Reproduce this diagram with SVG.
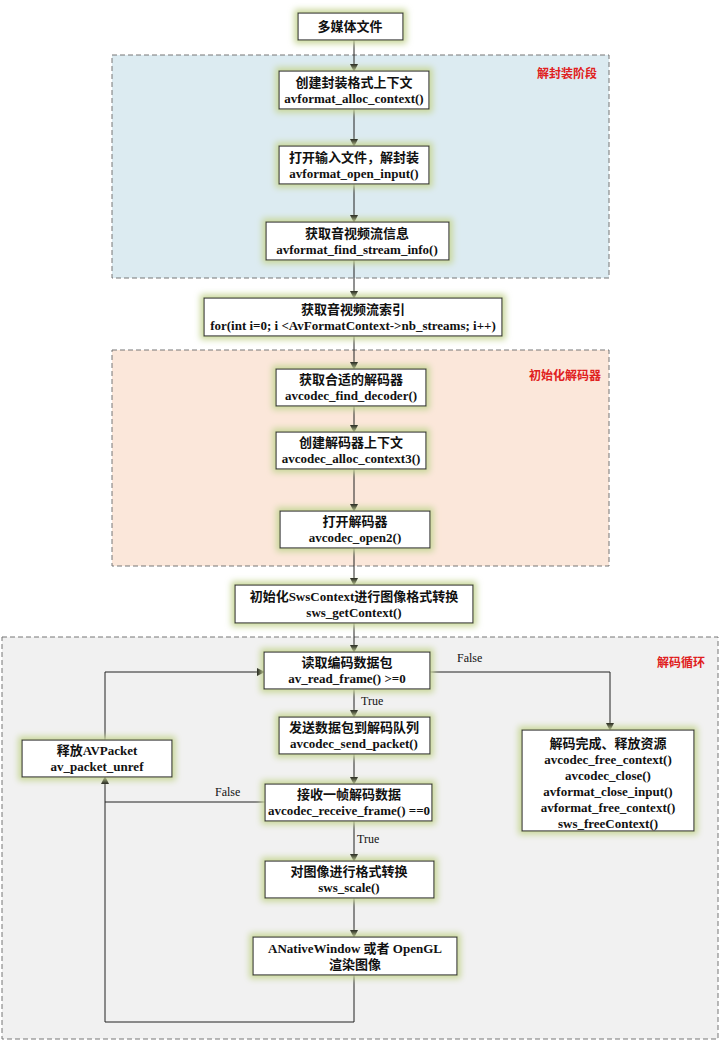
<svg xmlns="http://www.w3.org/2000/svg" width="720" height="1043" viewBox="0 0 720 1043">
<defs>
<filter id="glow" x="-20%" y="-40%" width="140%" height="180%">
<feMorphology in="SourceAlpha" operator="dilate" radius="3" result="d"/>
<feGaussianBlur in="d" stdDeviation="3" result="b"/>
<feFlood flood-color="#c9d79a"/>
<feComposite in2="b" operator="in" result="g"/>
<feMerge><feMergeNode in="g"/><feMergeNode in="SourceGraphic"/></feMerge>
</filter>
<marker id="ah" markerWidth="8" markerHeight="8" refX="7" refY="4" orient="auto" markerUnits="userSpaceOnUse">
<path d="M0,0 L8,4 L0,8 z" fill="#111"/>
</marker>
<style>
.nd rect{fill:#fff;stroke:#333;stroke-width:1.2;filter:url(#glow)}
text{font-family:"Liberation Serif","Noto Sans CJK SC",serif;font-size:13px;font-weight:bold;fill:#111;text-anchor:middle}
.lbl{font-weight:normal;font-size:12px;text-anchor:start}
.grp{font-size:12px;fill:#e02020;text-anchor:end}
.e{fill:none;stroke:#222;stroke-width:1}
.e.a{marker-end:url(#ah)}
.region{stroke:#777;stroke-width:1;stroke-dasharray:5,3}
</style>
</defs>
<rect width="720" height="1043" fill="#fff"/>
<g id="regions">
<rect class="region" x="112" y="55" width="497" height="223" fill="#dcebf1"/>
<text class="grp" x="597" y="78">解封装阶段</text>
<rect class="region" x="112" y="350" width="497" height="216" fill="#fbe7da"/>
<text class="grp" x="601" y="380">初始化解码器</text>
<rect class="region" x="2" y="637" width="716" height="402" fill="#f1f1f1"/>
<text class="grp" x="705" y="667">解码循环</text>
</g>
<g id="connectors">
<path class="e a" d="M354,40 V71"/>
<path class="e a" d="M354,109 V146"/>
<path class="e a" d="M354,184 V222"/>
<path class="e a" d="M354,260 V298"/>
<path class="e a" d="M354,336 V369"/>
<path class="e a" d="M354,406 V432"/>
<path class="e a" d="M354,469 V511"/>
<path class="e a" d="M354,548 V585"/>
<path class="e a" d="M354,623 V652"/>
<path class="e a" d="M354,689 V717"/>
<path class="e a" d="M354,754 V784"/>
<path class="e a" d="M354,821 V861"/>
<path class="e a" d="M354,898 V937"/>
<path class="e a" d="M354,975 V1022 H105 V777"/>
<path class="e a" d="M105,740 V672 H264"/>
<path class="e" d="M265,802 H105"/>
<path class="e a" d="M430,672 H610 V730"/>
<text class="lbl" x="457" y="662">False</text>
<text class="lbl" x="361" y="705">True</text>
<text class="lbl" x="215" y="796">False</text>
<text class="lbl" x="357" y="843">True</text>
</g>
<g id="n1" class="nd"><rect x="298" y="13" width="105" height="27"/><text x="350" y="31">多媒体文件</text></g>
<g id="n2" class="nd"><rect x="279" y="71" width="150" height="38"/><text x="354" y="87">创建封装格式上下文</text><text x="354" y="103">avformat_alloc_context()</text></g>
<g id="n3" class="nd"><rect x="279" y="146" width="150" height="38"/><text x="354" y="162">打开输入文件，解封装</text><text x="354" y="178">avformat_open_input()</text></g>
<g id="n4" class="nd"><rect x="266" y="222" width="183" height="38"/><text x="357" y="238">获取音视频流信息</text><text x="357" y="254">avformat_find_stream_info()</text></g>
<g id="n5" class="nd"><rect x="204" y="298" width="298" height="38"/><text x="353" y="314">获取音视频流索引</text><text x="353" y="330">for(int i=0; i &lt;AvFormatContext-&gt;nb_streams; i++)</text></g>
<g id="n6" class="nd"><rect x="276" y="369" width="150" height="37"/><text x="351" y="384">获取合适的解码器</text><text x="351" y="400">avcodec_find_decoder()</text></g>
<g id="n7" class="nd"><rect x="276" y="432" width="150" height="37"/><text x="351" y="447">创建解码器上下文</text><text x="351" y="463">avcodec_alloc_context3()</text></g>
<g id="n8" class="nd"><rect x="280" y="511" width="150" height="37"/><text x="355" y="526">打开解码器</text><text x="355" y="542">avcodec_open2()</text></g>
<g id="n9" class="nd"><rect x="235" y="585" width="238" height="38"/><text x="354" y="601">初始化SwsContext进行图像格式转换</text><text x="354" y="617">sws_getContext()</text></g>
<g id="n10" class="nd"><rect x="264" y="652" width="166" height="37"/><text x="347" y="667">读取编码数据包</text><text x="347" y="683">av_read_frame() &gt;=0</text></g>
<g id="n11" class="nd"><rect x="279" y="717" width="151" height="37"/><text x="354" y="732">发送数据包到解码队列</text><text x="354" y="748">avcodec_send_packet()</text></g>
<g id="n12" class="nd"><rect x="265" y="784" width="167" height="37"/><text x="349" y="799">接收一帧解码数据</text><text x="349" y="815">avcodec_receive_frame() ==0</text></g>
<g id="n13" class="nd"><rect x="265" y="861" width="169" height="37"/><text x="349" y="876">对图像进行格式转换</text><text x="349" y="892">sws_scale()</text></g>
<g id="n14" class="nd"><rect x="253" y="937" width="204" height="38"/><text x="355" y="953">ANativeWindow 或者 OpenGL</text><text x="355" y="969">渲染图像</text></g>
<g id="n15" class="nd"><rect x="22" y="740" width="150" height="37"/><text x="97" y="755">释放AVPacket</text><text x="97" y="771">av_packet_unref</text></g>
<g id="n16" class="nd"><rect x="522" y="730" width="172" height="101"/><text x="608" y="748">解码完成、释放资源</text><text x="608" y="764">avcodec_free_context()</text><text x="608" y="780">avcodec_close()</text><text x="608" y="796">avformat_close_input()</text><text x="608" y="812">avformat_free_context()</text><text x="608" y="828">sws_freeContext()</text></g>
</svg>
